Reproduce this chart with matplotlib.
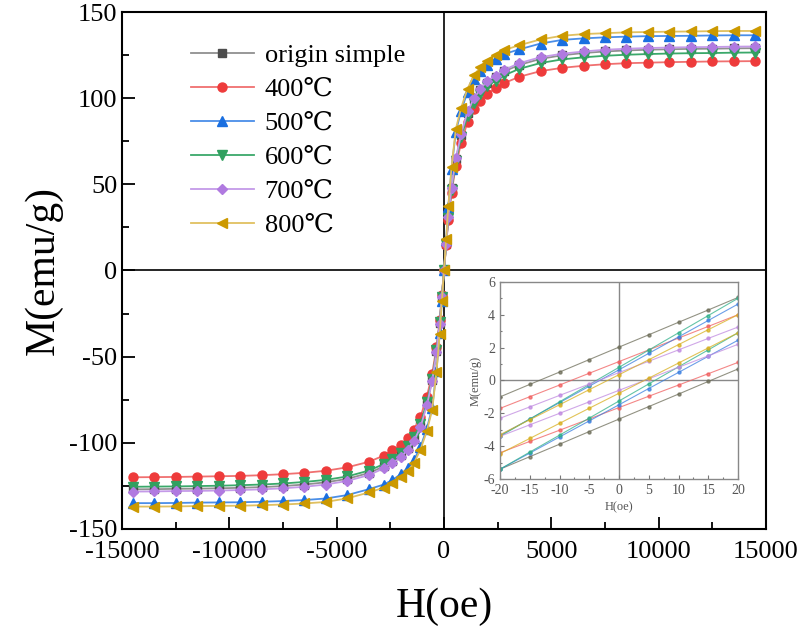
import matplotlib
matplotlib.use("Agg")
import matplotlib.pyplot as plt
from matplotlib.ticker import MultipleLocator

plt.rcParams['font.family'] = ['Liberation Serif', 'DejaVu Serif']
plt.rcParams['axes.unicode_minus'] = False

# main loop data (field in Oe, magnetisation in emu/g)
H = [-14500, -13500, -12500, -11500, -10500, -9500, -8500, -7500, -6500, -5500,
     -4500, -3500, -2800, -2400, -2000, -1700, -1400, -1100, -800, -550, -350,
     -200, -100, 0, 100, 200, 350, 550, 800, 1100, 1400, 1700, 2000, 2400, 2800,
     3500, 4500, 5500, 6500, 7500, 8500, 9500, 10500, 11500, 12500, 13500, 14500]

m_origin = [-127, -126.9, -126.7, -126.6, -126.4, -126.1, -125.7, -125.1, -124.2, -122.9,
            -120.9, -117.5, -113.7, -110.5, -107.3, -102.9, -97.8, -90.2, -77.5, -63.5, -47,
            -30.5, -15.2, 0, 15.5, 31, 47.7, 64.5, 78.7, 91.6, 99.3, 104.5, 109, 112.2, 115.5,
            119.3, 122.8, 124.9, 126.2, 127.1, 127.7, 128.1, 128.4, 128.6, 128.7, 128.9, 129]
m_400 = [-120, -119.9, -119.8, -119.6, -119.4, -119.2, -118.8, -118.2, -117.4, -116.2,
         -114.2, -111, -107.4, -104.4, -101.4, -97.2, -92.4, -85.2, -73.2, -60, -44.4,
         -28.8, -14.4, 0, 14.6, 29.2, 45, 60.8, 74.1, 86.3, 93.6, 98.4, 102.7, 105.7, 108.7,
         112.4, 115.7, 117.6, 118.8, 119.7, 120.3, 120.6, 120.9, 121.1, 121.3, 121.4, 121.5]
m_500 = [-135, -135, -134.9, -134.7, -134.6, -134.5, -134.2, -133.8, -133.2, -132.3,
         -130.3, -126.9, -124.2, -121.5, -118.1, -114.8, -110, -102.6, -91.8, -79.7, -58.1,
         -36.5, -17.6, 0, 17.7, 36.9, 58.7, 80.5, 92.8, 103.7, 111.2, 116, 119.4, 122.9, 125.6,
         128.3, 131.7, 133.8, 134.7, 135.3, 135.7, 136, 136.1, 136.2, 136.4, 136.5, 136.5]
m_600 = [-125.5, -125.4, -125.3, -125.1, -124.9, -124.6, -124.2, -123.6, -122.7, -121.5,
         -119.5, -116.1, -112.3, -109.2, -106, -101.7, -96.6, -89.1, -76.6, -62.8, -46.4,
         -30.1, -15.1, 0, 15.2, 30.4, 46.8, 63.3, 77.2, 89.8, 97.4, 102.5, 106.9, 110.1, 113.2,
         117, 120.4, 122.5, 123.7, 124.6, 125.2, 125.6, 125.9, 126.1, 126.2, 126.4, 126.5]
m_700 = [-128.3, -128.2, -128, -127.9, -127.7, -127.4, -127, -126.4, -125.5, -124.2,
         -122.1, -118.7, -114.8, -111.6, -108.4, -103.9, -98.8, -91.1, -78.3, -64.2, -47.5,
         -30.8, -15.4, 0, 15.6, 31.2, 48.1, 65, 79.3, 92.3, 100.1, 105.3, 109.9, 113.1, 116.4,
         120.3, 123.8, 125.8, 127.1, 128.1, 128.7, 129.1, 129.4, 129.6, 129.7, 129.9, 130]
m_800 = [-137, -137, -136.9, -136.7, -136.6, -136.5, -136.2, -135.8, -135.2, -134.3,
         -132.2, -128.8, -126, -123.3, -119.9, -116.5, -111.7, -104.1, -93.2, -80.8, -58.9,
         -37, -17.8, 0, 18.1, 37.5, 59.8, 82, 94.5, 105.6, 113.3, 118.2, 121.6, 125.1, 127.9,
         130.7, 134.1, 136.2, 137.2, 137.7, 138.2, 138.4, 138.6, 138.7, 138.9, 139, 139]

labels = ['origin simple', '400\u2103', '500\u2103', '600\u2103', '700\u2103', '800\u2103']

# inset: low-field branches (upper = descending field, lower = ascending field)
h_in = [-20, -15, -10, -5, 0, 5, 10, 15, 20]
up_origin = [-1.0, -0.24, 0.51, 1.27, 2.03, 2.78, 3.54, 4.29, 5.05]
lo_origin = [-5.4, -4.64, -3.88, -3.11, -2.35, -1.59, -0.83, -0.06, 0.7]
up_400 = [-1.7, -0.99, -0.28, 0.44, 1.15, 1.86, 2.58, 3.29, 4.0]
lo_400 = [-4.4, -3.71, -3.03, -2.34, -1.65, -0.96, -0.28, 0.41, 1.1]
up_500 = [-3.35, -2.35, -1.35, -0.35, 0.65, 1.65, 2.65, 3.65, 4.65]
lo_500 = [-5.4, -4.42, -3.44, -2.46, -1.48, -0.49, 0.49, 1.47, 2.45]
up_600 = [-3.4, -2.35, -1.3, -0.25, 0.8, 1.85, 2.9, 3.95, 5.0]
lo_600 = [-5.4, -4.36, -3.33, -2.29, -1.25, -0.21, 0.83, 1.86, 2.9]
up_700 = [-2.3, -1.61, -0.91, -0.22, 0.48, 1.17, 1.86, 2.56, 3.25]
lo_700 = [-3.4, -2.7, -2.0, -1.3, -0.6, 0.1, 0.8, 1.5, 2.2]
up_800 = [-3.3, -2.39, -1.48, -0.56, 0.35, 1.26, 2.18, 3.09, 4.0]
lo_800 = [-4.45, -3.53, -2.61, -1.69, -0.78, 0.14, 1.06, 1.98, 2.9]

series = [m_origin, m_400, m_500, m_600, m_700, m_800]
inset_up = [up_origin, up_400, up_500, up_600, up_700, up_800]
inset_lo = [lo_origin, lo_400, lo_500, lo_600, lo_700, lo_800]

mk_col = ['#4d4d4d', '#ee3b3b', '#1a6fe0', '#32a060', '#b07ae0', '#cc9900']
ln_col = ['#909090', '#f07070', '#4a8ee8', '#3aa86a', '#c49ae8', '#e0c060']
in_col = ['#6e6e5a', '#f06060', '#3a7fe0', '#30b08a', '#c08ae0', '#d8b020']
markers = ['s', 'o', '^', 'v', 'D', '<']
msizes = [5.5, 6.5, 6.5, 6.5, 5.5, 6.5]

fig = plt.figure(figsize=(8, 6.32), dpi=100)
ax = fig.add_axes([0.1525, 0.163, 0.805, 0.818])

for m, lab, mc, lc, mk, ms in zip(series, labels, mk_col, ln_col, markers, msizes):
    ax.plot(H, m, color=lc, lw=1.3, marker=mk, ms=ms, mfc=mc, mec=mc, label=lab)

ax.axhline(0, color='black', lw=1.2, zorder=0)
ax.axvline(0, color='black', lw=1.2, zorder=0)
ax.set_xlim(-15000, 15000)
ax.set_ylim(-150, 150)
ax.xaxis.set_major_locator(MultipleLocator(5000))
ax.xaxis.set_minor_locator(MultipleLocator(2500))
ax.yaxis.set_major_locator(MultipleLocator(50))
ax.yaxis.set_minor_locator(MultipleLocator(25))
ax.tick_params(which='both', direction='in', labelsize=19, width=1.3)
ax.tick_params(which='major', length=9)
ax.tick_params(which='minor', length=5)
ax.tick_params(axis='x', pad=9)
for s in ax.spines.values():
    s.set_linewidth(1.5)
ax.set_xlabel('H(oe)', fontsize=30, labelpad=17)
ax.set_ylabel('M(emu/g)', fontsize=30, labelpad=4)

leg = ax.legend(loc='upper left', bbox_to_anchor=(0.07, 0.985), frameon=False,
                fontsize=19, handlelength=2.4, handletextpad=0.4, labelspacing=0.4)

# inset
ins = fig.add_axes([0.625, 0.242, 0.2975, 0.312])
for up, lo, c in zip(inset_up, inset_lo, in_col):
    ins.plot(h_in, up, color=c, lw=0.8, alpha=0.75, marker='o', ms=2.2)
    ins.plot(h_in, lo, color=c, lw=0.8, alpha=0.75, marker='o', ms=2.2)
ins.axhline(0, color='#888888', lw=1.0, zorder=0)
ins.axvline(0, color='#888888', lw=1.0, zorder=0)
ins.set_xlim(-20, 20)
ins.set_ylim(-6, 6)
ins.xaxis.set_major_locator(MultipleLocator(5))
ins.xaxis.set_minor_locator(MultipleLocator(2.5))
ins.yaxis.set_major_locator(MultipleLocator(2))
ins.yaxis.set_minor_locator(MultipleLocator(1))
ins.tick_params(which='both', direction='in', labelsize=10, colors='#777777',
                labelcolor='#555555', width=0.8)
ins.tick_params(which='major', length=3)
ins.tick_params(which='minor', length=1.5)
for s in ins.spines.values():
    s.set_color('#888888')
    s.set_linewidth(1.0)
ins.set_xlabel('H(oe)', fontsize=9, color='#555555', labelpad=3)
ins.set_ylabel('M(emu/g)', fontsize=9, color='#555555', labelpad=1)

fig.savefig('out.png', dpi=100)
